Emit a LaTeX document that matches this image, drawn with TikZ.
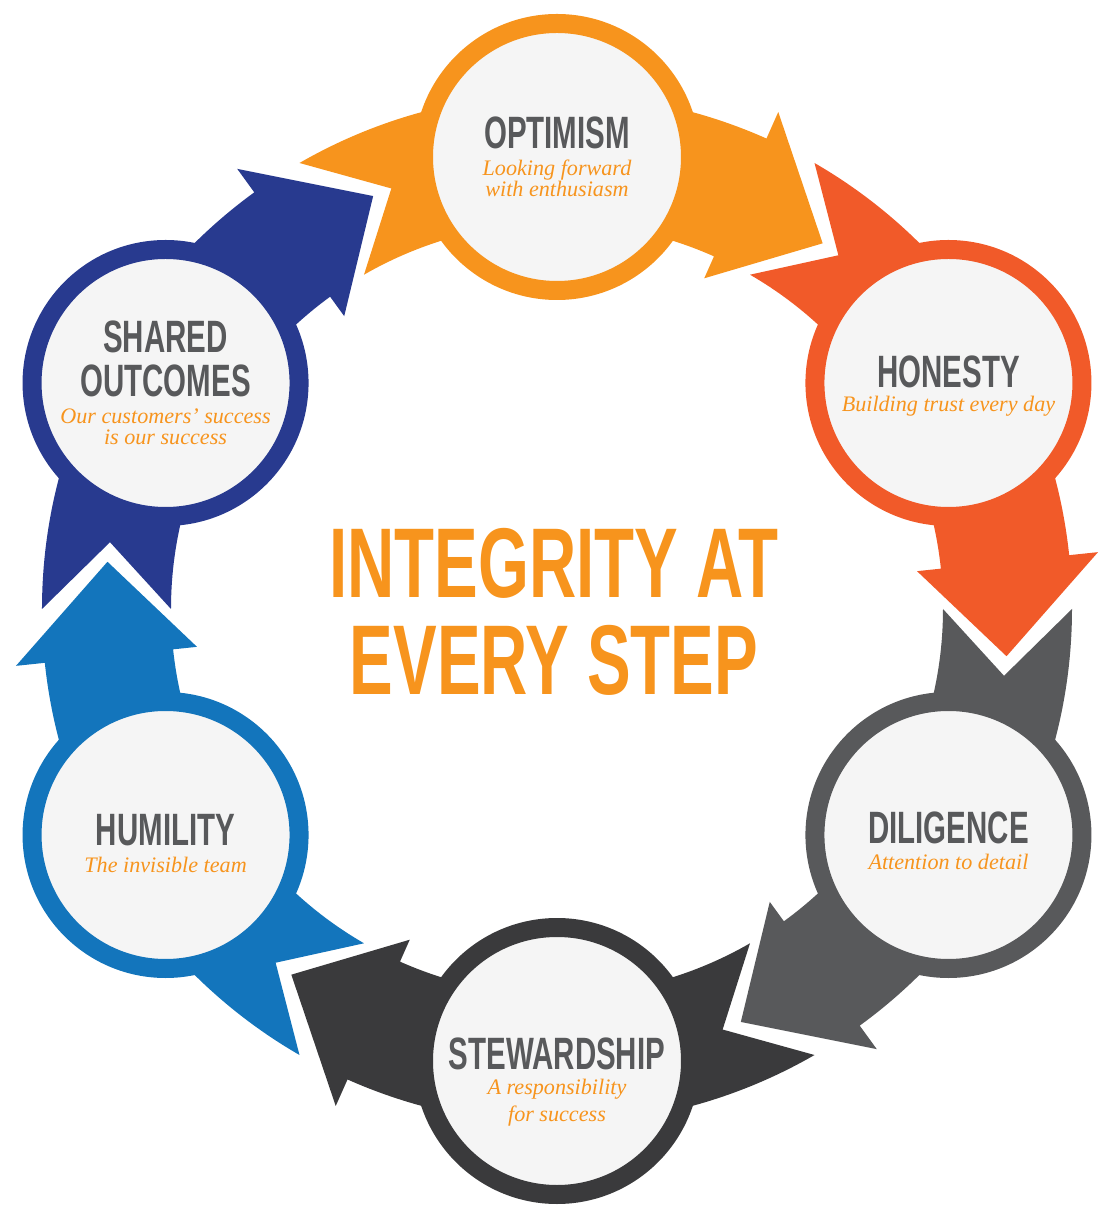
\documentclass[tikz,border=0pt]{standalone}
\usepackage{fontspec}
\usepackage{xcolor}
\usepackage{tikz}
\usetikzlibrary{positioning}

\newfontfamily\condensed[FakeStretch=0.65]{Liberation Sans}
\newfontfamily\bigcondensed[FakeStretch=0.66]{Liberation Sans}
\newfontfamily\mottofont{Liberation Serif}

\definecolor{optimismc}{HTML}{F7941D}
\definecolor{honestyc}{HTML}{F15A29}
\definecolor{diligencec}{HTML}{58595B}
\definecolor{stewardc}{HTML}{3A3A3C}
\definecolor{humilityc}{HTML}{1375BC}
\definecolor{sharedc}{HTML}{283A8F}
\definecolor{paper}{HTML}{F5F5F5}
\definecolor{ink}{HTML}{58595B}

\begin{document}
\begin{tikzpicture}[
    band/.style={insert path={({#1+30}:10.3) arc[start angle={#1+30},end angle={#1-24},radius=10.3cm]
        -- ({#1-24}:10.88) -- ({#1-36}:9.04) -- ({#1-24}:7.24) -- ({#1-24}:7.72)
        arc[start angle={#1-24},end angle={#1+30},radius=7.72cm] -- ({#1+21.5}:9.04) -- cycle}},
    ring/.style={circle,draw=#1,line width=0.38cm,fill=paper,minimum size=5.34cm,inner sep=0pt},
    title/.style={text=ink,inner sep=0pt,align=center,
        font=\condensed\bfseries\fontsize{25.8}{24.8}\selectfont},
    motto/.style={text=optimismc,inner sep=0pt,align=center,
        font=\mottofont\itshape\fontsize{12.6}{12}\selectfont},
    headline/.style={text=optimismc,inner sep=0pt,align=center,
        font=\bigcondensed\bfseries\fontsize{56.4}{55.5}\selectfont}]

\useasboundingbox (-11.14,-12.10) rectangle (11.06,12.18);

% arrows round the ring
\fill[optimismc] [band=90];
\fill[honestyc] [band=30];
\fill[diligencec] [band=-30];
\fill[stewardc] [band=-90];
\fill[humilityc] [band=-150];
\fill[sharedc] [band=150];

% circles
\node[ring=optimismc] (optimism) at (90:9.04) {};
\node[ring=honestyc] (honesty) at (30:9.04) {};
\node[ring=diligencec] (diligence) at (-30:9.04) {};
\node[ring=stewardc] (stewardship) at (-90:9.04) {};
\node[ring=humilityc] (humility) at (-150:9.04) {};
\node[ring=sharedc] (shared) at (150:9.04) {};

% labels
\node[title] (optimism-t) at ([yshift=0.48cm]optimism.center) {OPTIMISM};
\node[motto] (optimism-m) at ([yshift=-0.43cm]optimism.center) {Looking forward\\with enthusiasm};

\node[title] (honesty-t) at ([yshift=0.22cm]honesty.center) {HONESTY};
\node[motto] (honesty-m) at ([yshift=-0.46cm]honesty.center) {Building trust every day};

\node[title] (diligence-t) at ([yshift=0.15cm]diligence.center) {DILIGENCE};
\node[motto] (diligence-m) at ([yshift=-0.54cm]diligence.center) {Attention to detail};

\node[title] (stewardship-t) at ([yshift=0.14cm]stewardship.center) {STEWARDSHIP};
\node[motto,font=\mottofont\itshape\fontsize{12.6}{15.4}\selectfont] (stewardship-m)
    at ([yshift=-0.84cm]stewardship.center) {A responsibility\\for success};

\node[title] (humility-t) at ([yshift=0.1cm]humility.center) {HUMILITY};
\node[motto] (humility-m) at ([yshift=-0.6cm]humility.center) {The invisible team};

\node[title] (shared-t) at ([yshift=0.48cm]shared.center) {SHARED\\OUTCOMES};
\node[motto] (shared-m) at ([yshift=-0.88cm]shared.center) {Our customers’ success\\is our success};

\node[headline] (integrity) at (-0.06,-0.06) {INTEGRITY AT\\EVERY STEP};

\end{tikzpicture}
\end{document}
